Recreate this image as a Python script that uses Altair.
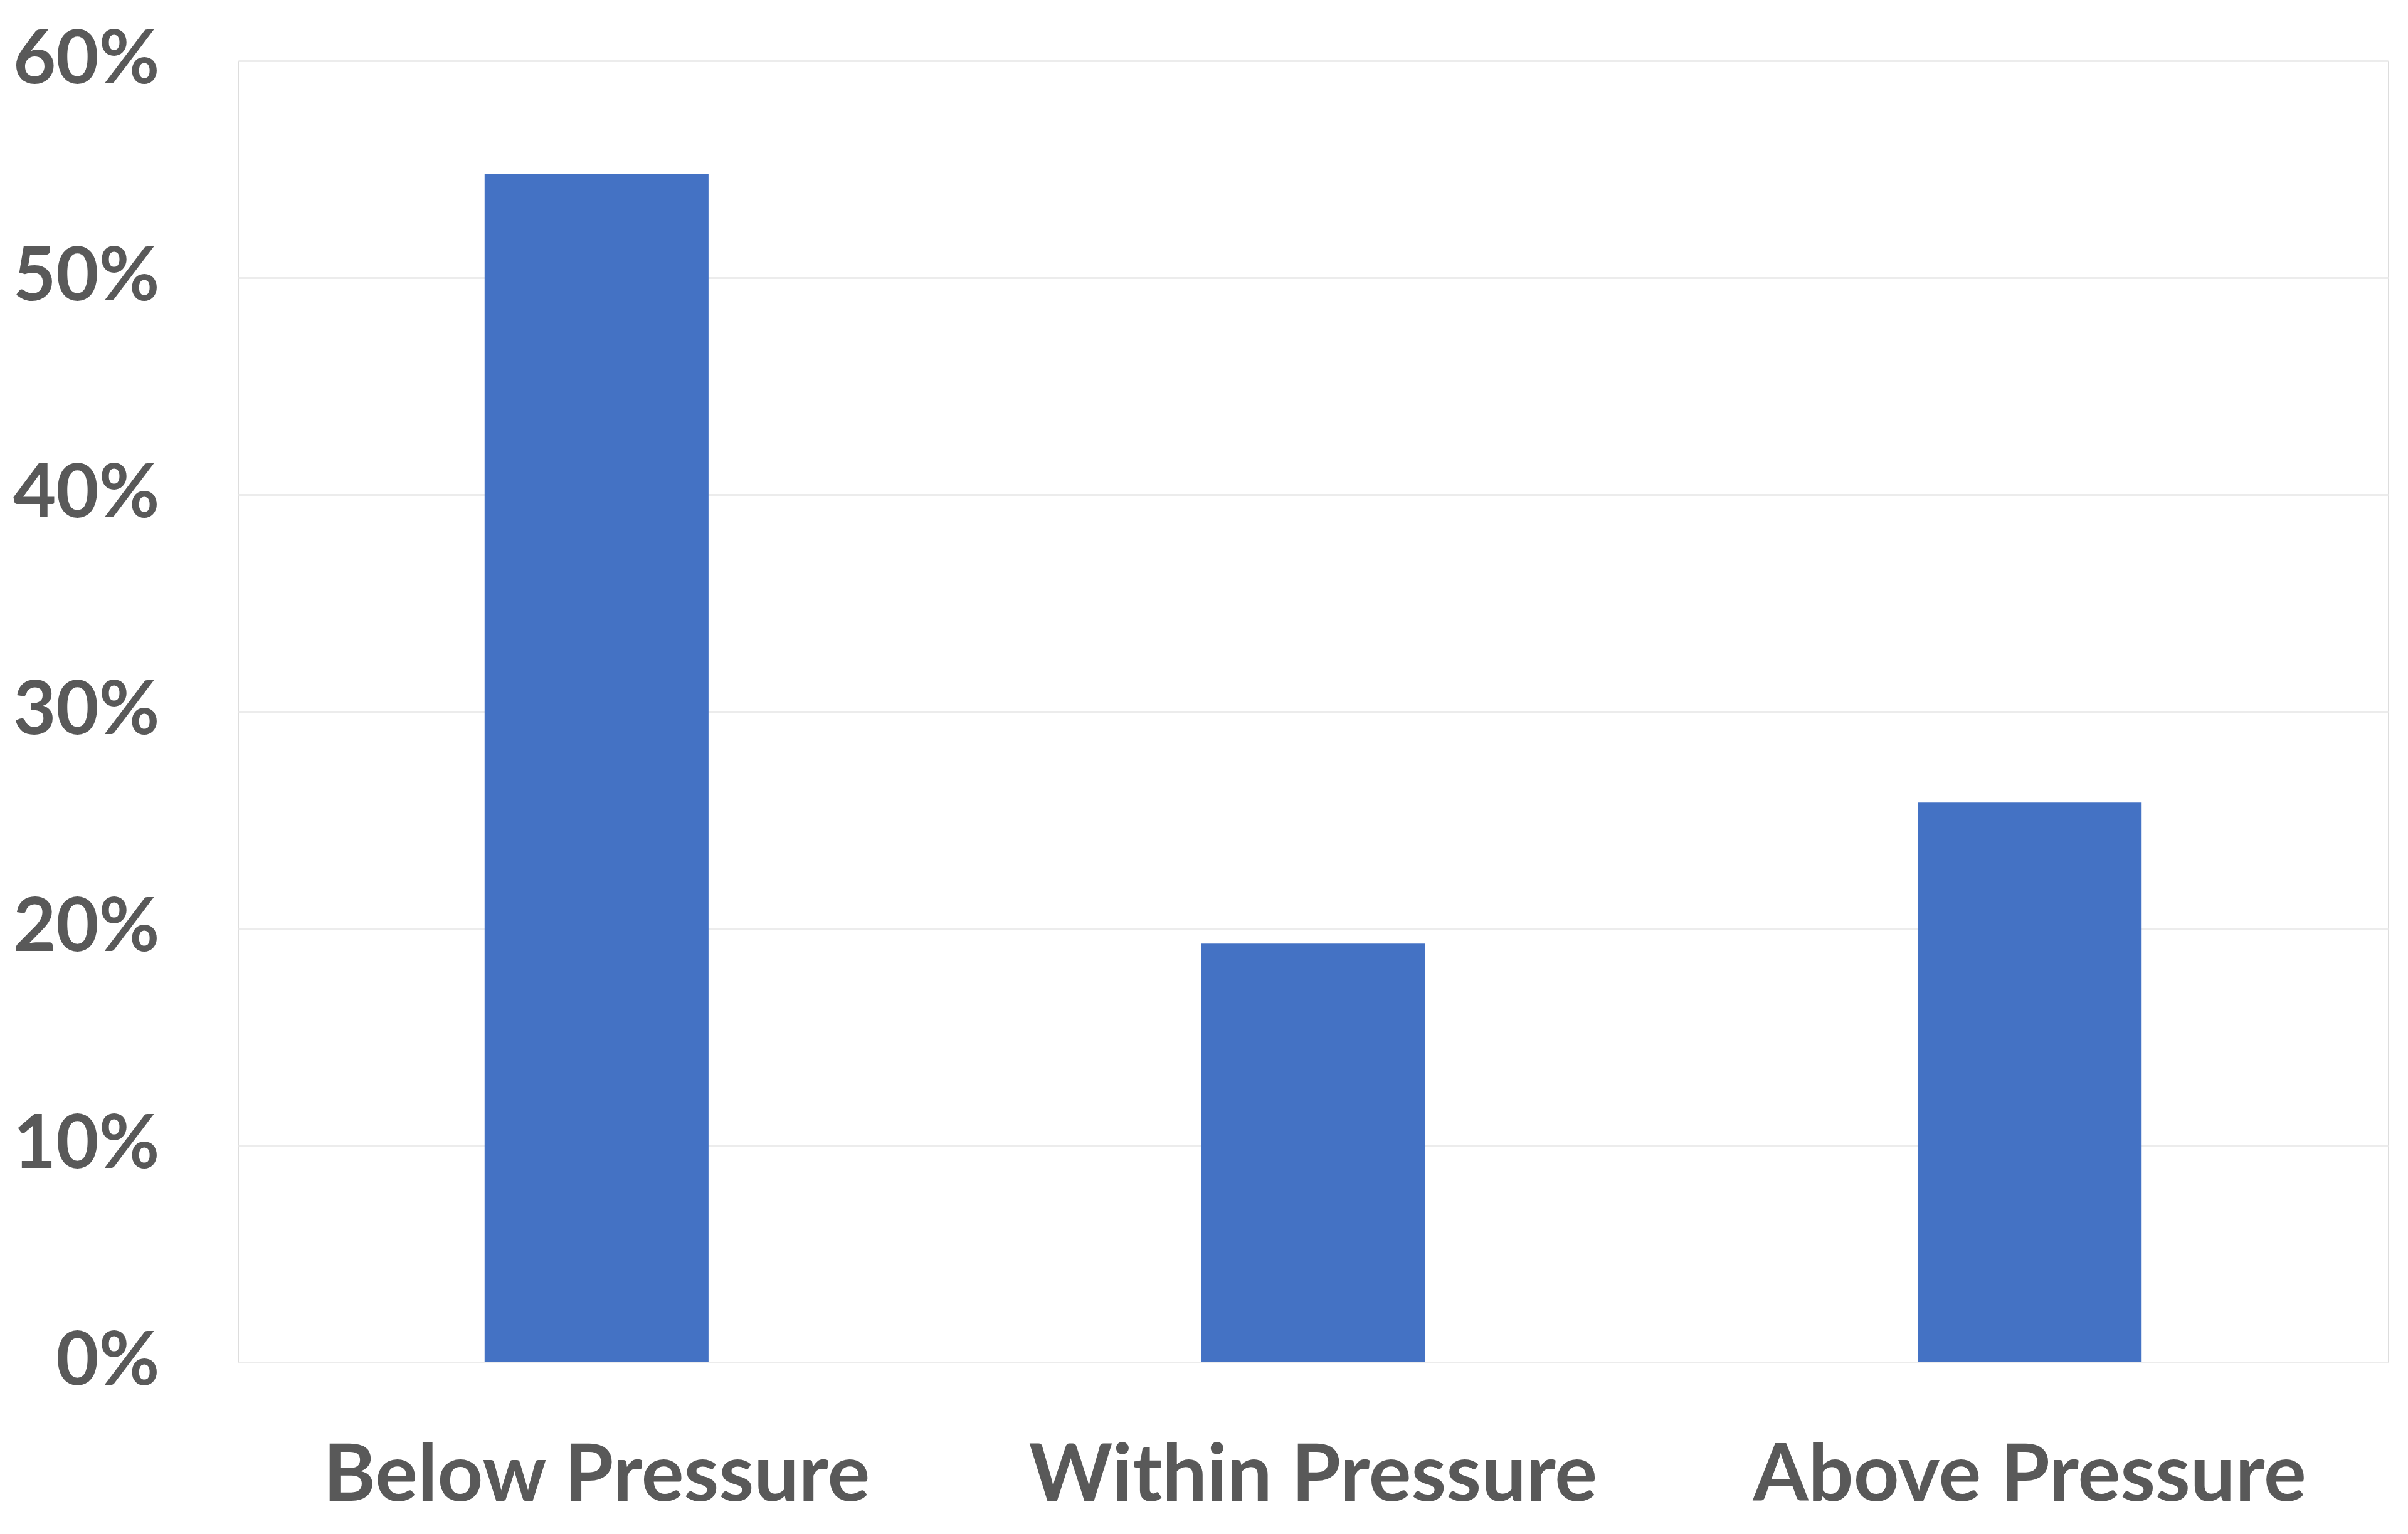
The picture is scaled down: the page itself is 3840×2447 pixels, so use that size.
import altair as alt
import pandas as pd

categories = ["Below Pressure", "Within Pressure", "Above Pressure"]
values = [0.548, 0.193, 0.258]
y_ticks = [0, 0.1, 0.2, 0.3, 0.4, 0.5, 0.6]

df = pd.DataFrame({"category": categories, "value": values})

label_color = "#595959"
font = "Lato"

chart = alt.Chart(df).mark_bar(
    color="#4472C4",
    width=alt.RelativeBandSize(0.3125),
).encode(
    x=alt.X(
        "category:N",
        sort=categories,
        title=None,
        scale=alt.Scale(paddingInner=0, paddingOuter=0),
        axis=alt.Axis(
            labelAngle=0,
            labelFont=font,
            labelFontWeight="bold",
            labelFontSize=127,
            labelColor=label_color,
            labelPadding=120,
            labelLimit=3000,
            ticks=False,
            domain=False,
            grid=False,
        ),
    ),
    y=alt.Y(
        "value:Q",
        title=None,
        scale=alt.Scale(domain=[0, 0.6], nice=False),
        axis=alt.Axis(
            values=y_ticks,
            format=".0%",
            labelFont=font,
            labelFontWeight="bold",
            labelFontSize=118,
            labelColor=label_color,
            labelPadding=126,
            labelLimit=1000,
            ticks=False,
            domain=False,
            grid=True,
            gridColor="#ececec",
            gridWidth=3,
        ),
    ),
).properties(
    width=3428,
    height=2076,
    autosize=alt.AutoSizeParams(type="none"),
    padding={"left": 372, "top": 89, "right": 24, "bottom": 266},
).configure_view(
    stroke="#f0f0f0",
    strokeWidth=3,
).configure(
    background="white",
)

chart.save("out.html", embed_options={"renderer": "svg", "actions": False})
